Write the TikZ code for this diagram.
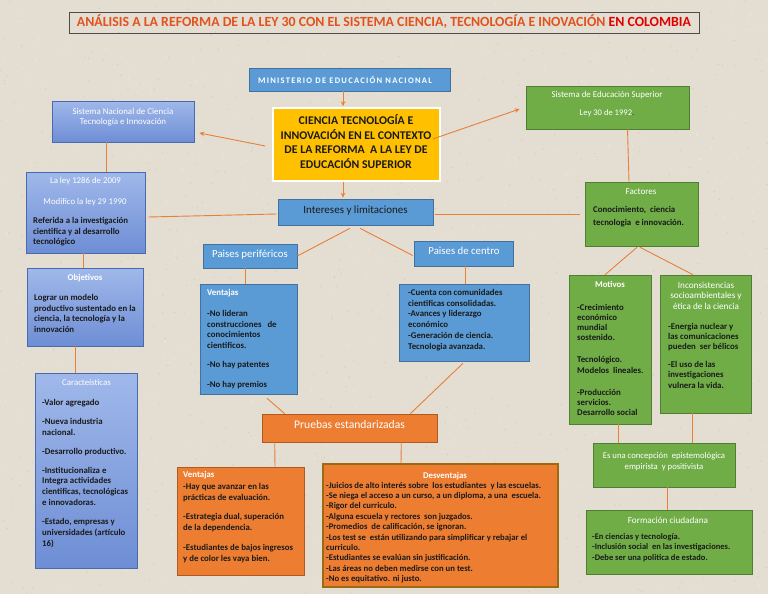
\documentclass[tikz,border=0pt]{standalone}
\usepackage{fontspec}
\setmainfont{Carlito}
\usepackage{graphicx}
\usetikzlibrary{arrows.meta,calc,fit}
\definecolor{bgc}{HTML}{E4DDD1}
\definecolor{bgd}{HTML}{C8BEAD}
\definecolor{bgl}{HTML}{F3EEE6}
\definecolor{blu}{HTML}{5B9BD5}
\definecolor{bluD}{HTML}{41719C}
\definecolor{grT}{HTML}{A0B8EA}
\definecolor{grB}{HTML}{6E8ED5}
\definecolor{grD}{HTML}{4A6AB0}
\definecolor{grn}{HTML}{70AD47}
\definecolor{grnD}{HTML}{507E32}
\definecolor{org}{HTML}{ED7D31}
\definecolor{orgD}{HTML}{AE5A21}
\definecolor{dvD}{HTML}{9A6B12}
\definecolor{yel}{HTML}{FFC000}
\definecolor{lnk}{HTML}{E8803A}
\definecolor{titc}{HTML}{E2521E}
\definecolor{titr}{HTML}{E00000}
\definecolor{txd}{HTML}{1A1A1A}
\newcommand\bx[6]{\node[#2,fit={(#3,#4)(#5,#6)},inner sep=0pt] (#1) {};}
\newcommand\tx[5]{\node[#1] (#2) at (#3,{#4-5.5}) {\strut #5};}
\begin{document}
\begin{tikzpicture}[x=1pt,y=-1pt,
  bluebox/.style={fill=blu,draw=bluD,line width=0.6pt},
  gradbox/.style={top color=grT,bottom color=grB,draw=grD,line width=0.6pt},
  greenbox/.style={fill=grn,draw=grnD,line width=0.6pt},
  orangebox/.style={fill=org,draw=orgD,line width=0.6pt},
  dvbox/.style={fill=org,draw=dvD,line width=1.2pt},
  yelbox/.style={fill=yel,draw=white,line width=1.5pt},
  titbox/.style={draw=black!70,line width=0.7pt},
  link/.style={draw=lnk,line width=0.9pt},
  arr/.style={link,-{Stealth[length=5pt,width=4.5pt]}},
  body/.style={anchor=north west,inner sep=0pt,align=left,font=\fontsize{8.8}{10.8}\selectfont\bfseries,text=txd},
  bodyw/.style={body,text=white},
  headc/.style={anchor=north,inner sep=0pt,align=center,font=\fontsize{8.8}{10.8}\selectfont,text=white},
  single/.style={anchor=base,inner sep=0pt}
]
\useasboundingbox (0,0) rectangle (768,594);
\fill[bgc] (0,0) rectangle (768,594);
\pgfmathsetseed{17}
\foreach \i in {1,...,700} {\fill[bgd,opacity=0.55] ({rnd*768},{rnd*594}) circle (0.7pt);}
\foreach \i in {1,...,500} {\fill[bgl,opacity=0.7] ({rnd*768},{rnd*594}) circle (0.8pt);}

% boxes
\bx{tb}{titbox}{69}{12}{699}{33}
\bx{min}{bluebox}{249}{68}{450}{91}
\bx{cen}{yelbox}{273}{108}{440}{181}
\bx{sn}{gradbox}{52}{101}{194}{142}
\bx{ley}{gradbox}{26}{172}{145}{253}
\bx{obj}{gradbox}{27}{268}{143}{346}
\bx{car}{gradbox}{35}{373}{137}{568}
\bx{int}{bluebox}{278}{199}{433}{225}
\bx{pp}{bluebox}{203}{244}{297}{268}
\bx{pc}{bluebox}{414}{241}{513}{266}
\bx{vb}{bluebox}{200}{284}{297}{394}
\bx{cu}{bluebox}{399}{284}{529}{361}
\bx{pr}{orangebox}{262}{414}{437}{442}
\bx{vo}{orangebox}{177}{467}{304}{575}
\bx{dv}{dvbox}{323}{464}{558}{587}
\bx{ses}{greenbox}{526}{86}{689}{129}
\bx{fac}{greenbox}{585}{182}{698}{246}
\bx{mo}{greenbox}{569}{275}{651}{424}
\bx{inc}{greenbox}{660}{275}{751}{413}
\bx{ec}{greenbox}{593}{443}{735}{487}
\bx{fc}{greenbox}{586}{510}{752}{574}

% connectors
\draw[arr] ($(min.south)+(-6.5,0)$) -- ($(cen.north)+(-13.5,-1)$);
\draw[arr] ($(cen.west)+(-7,1.5)$) -- ($(sn.east)+(5,11.5)$);
\draw[arr] ($(cen.east)+(-8,-5.5)$) -- ($(ses.west)+(-6,1.5)$);
\draw[arr] ($(cen.south)+(-13.5,0)$) -- ($(int.north)+(-12.5,-1)$);
\draw[link] ($(sn.south)+(-17,0)$) -- ($(ley.north)+(20.5,0)$);
\draw[link] ($(ley.east)+(3,4.5)$) -- ($(int.west)+(-1,2)$);
\draw[link] ($(int.east)+(2,2)$) -- ($(fac.west)+(-5,0)$);
\draw[link] ($(ses.south)+(20,0)$) -- ($(fac.north)+(-12.5,0)$);
\draw[link] ($(ley.south)+(-2.5,0)$) -- ($(obj.north)+(-2,0)$);
\draw[link] ($(obj.south)+(-10,0)$) -- ($(car.north)+(-11,0)$);
\draw[link] ($(int.south)+(-5.5,3)$) -- (pp.east);
\draw[link] ($(int.south)+(4.5,3)$) -- ($(pc.west)+(-1,2)$);
\draw[link] ($(pp.south)+(-5,0)$) -- ($(vb.north)+(-3.5,0)$);
\draw[link] ($(pc.south)+(1.5,0)$) -- ($(cu.north)+(1,0)$);
\draw[link] ($(vb.south)+(18.5,4)$) -- ($(pr.north west)+(23,0)$);
\draw[link] ($(cu.south)+(-1,2)$) -- ($(pr.north east)+(-27,0)$);
\draw[link] ($(pr.south west)+(13,0)$) -- ($(vo.north)+(34.5,0)$);
\draw[link] ($(pr.south east)+(-36,0)$) -- ($(dv.north)+(-39.5,0)$);
\draw[link] ($(fac.south)+(-4.5,1)$) -- ($(mo.north)+(-5,0)$);
\draw[link] ($(fac.south)+(-1.5,1)$) -- ($(inc.north)+(-12.5,0)$);
\draw[link] ($(mo.south)+(8,0)$) -- ($(ec.north)+(-46,0)$);
\draw[link] ($(inc.south)+(-13.5,0)$) -- ($(ec.north)+(28,0)$);
\draw[link] ($(ec.south)+(3,0)$) -- ($(fc.north)+(-2,0)$);

% title
\node[single] (tt) at (384,27) {\resizebox{614pt}{\height}{\fontsize{14}{14}\selectfont\bfseries\color{titc}ANÁLISIS A LA REFORMA DE LA LEY 30 CON EL SISTEMA CIENCIA, TECNOLOGÍA E INOVACIÓN \color{titr}EN COLOMBIA}};

% texts
\node[single,font=\fontsize{8.5}{10}\selectfont\bfseries\addfontfeature{LetterSpace=15},text=white] (mint) at (345,83) {MINISTERIO DE EDUCACIÓN NACIONAL};
\node[anchor=north,inner sep=0pt,align=center,font=\fontsize{11.8}{14.7}\selectfont\bfseries,text=txd] (cent) at (356,114) {\strut CIENCIA TECNOLOGÍA E\\INNOVACIÓN EN EL CONTEXTO\\DE LA REFORMA\ \ A LA LEY DE\\EDUCACIÓN SUPERIOR};
\node[anchor=north,inner sep=0pt,align=center,font=\fontsize{8.9}{10}\selectfont,text=white] (snt) at (123,106.8) {\strut Sistema Nacional de Ciencia\\Tecnología e Innovación};
\node[single,font=\fontsize{8.8}{10}\selectfont,text=white] (ley1) at (85.5,183.5) {La ley 1286 de 2009};
\node[single,font=\fontsize{8.8}{10}\selectfont,text=white] (ley2) at (85,204.5) {Modifico la ley 29 1990};
\tx{body}{leyt}{33}{221}{Referida a la investigación\\cientifica y al desarrollo\\tecnológico}
\node[single,font=\fontsize{8.8}{10}\selectfont\bfseries,text=white] (objh) at (85,280.5) {Objetivos};
\tx{body}{objt}{34}{298}{Lograr un modelo\\productivo sustentado en la\\ciencia, la tecnología y la\\innovación}
\node[single,font=\fontsize{8.8}{10}\selectfont,text=white] (carh) at (86.5,385.5) {Caracteísticas};
\tx{body}{cart}{42}{403}{-Valor agregado\\[8.2pt]-Nueva industria\\nacional.\\[8.2pt]-Desarrollo productivo.\\[8.2pt]-Institucionaliza e\\Integra actividades\\cientificas, tecnológicas\\e innovadoras.\\[8.2pt]-Estado, empresas y\\universidades (artículo\\16)}

\node[single,font=\fontsize{11}{12}\selectfont,text=txd] (intt) at (355.5,213.5) {Intereses y limitaciones};
\node[single,font=\fontsize{10.8}{12}\selectfont,text=white] (ppt) at (250,257.5) {Paises periféricos};
\node[single,font=\fontsize{10.8}{12}\selectfont,text=white] (pct) at (464,254) {Paises de centro};
\tx{bodyw}{vbh}{207}{293}{Ventajas}
\tx{body}{vbt}{207}{314}{-No lideran\\construcciones\ \ \ de\\conocimientos\\cientificos.\\[8.2pt]-No hay patentes\\[9pt]-No hay premios}
\tx{body}{cut}{408}{293}{-Cuenta con comunidades\\cientificas consolidadas.\\-Avances y liderazgo\\económico\\-Generación de ciencia.\\Tecnologia avanzada.}
\node[single,font=\fontsize{11.6}{12}\selectfont,text=white] (prt) at (349.5,428.5) {Pruebas estandarizadas};
\tx{bodyw}{voh}{183}{475}{Ventajas}
\tx{body}{vot}{183}{487}{-Hay que avanzar en las\\prácticas de evaluación.\\[9pt]-Estrategia dual, superación\\de la dependencia.\\[9pt]-Estudiantes de bajos ingresos\\y de color les vaya bien.}
\node[single,font=\fontsize{8.8}{10}\selectfont\bfseries,text=white] (dvh) at (445,478.5) {Desventajas};
\node[body,font=\fontsize{8.7}{10.4}\selectfont\bfseries] (dvt) at (326,{486-5.3}) {\strut -Juicios de alto interés sobre\ \ los estudiantes\ \ y las escuelas.\\-Se niega el acceso a un curso, a un diploma, a una\ \ escuela.\\-Rigor del curriculo.\\-Alguna escuela y rectores\ \ son juzgados.\\-Promedios\ \ de calificación, se ignoran.\\-Los test se\ \ están utilizando para simplificar y rebajar el\\curriculo.\\-Estudiantes se evalúan sin justificación.\\-Las áreas no deben medirse con un test.\\-No es equitativo. ni justo.};

\node[single,font=\fontsize{8.9}{10}\selectfont,text=white] (ses1) at (607,97.5) {Sistema de Educación Superior};
\node[single,font=\fontsize{8.6}{10}\selectfont,text=white] (ses2) at (607,115.5) {Ley 30 de 1992\textcolor{txd}{.}};
\node[single,font=\fontsize{9}{10}\selectfont,text=white] (fach) at (641,194.5) {Factores};
\node[body,font=\fontsize{8.8}{13}\selectfont\bfseries] (fact) at (593,{210-7.1}) {\strut Conocimiento,\ \ ciencia\\tecnologia\ \ e innovación.};
\node[single,font=\fontsize{8.8}{10}\selectfont\bfseries,text=white] (moh) at (610,287.5) {Motivos};
\node[body,font=\fontsize{8.8}{10.2}\selectfont\bfseries] (mot) at (577,{308-5.1}) {\strut -Crecimiento\\económico\\mundial\\sostenido.\\[11.8pt]Tecnológico.\\Modelos\ \ lineales.\\[11.8pt]-Producción\\servicios.\\Desarrollo social};
\node[headc,font=\fontsize{9.2}{10.5}\selectfont] (inch) at (706,{286-5.2}) {\strut Inconsistencias\\socioambientales y\\ética de la ciencia};
\node[body,font=\fontsize{8.8}{10.2}\selectfont\bfseries] (inct) at (668,{327-5.1}) {\strut -Energia nuclear y\\las comunicaciones\\pueden\ \ ser bélicos\\[7.8pt]-El uso de las\\investigaciones\\vulnera la vida.};
\node[headc,font=\fontsize{8.7}{10.8}\selectfont] (ect) at (664,{456-5.5}) {\strut Es una concepción\ \ epistemológica\\empirista\ \ y positivista};
\node[single,font=\fontsize{9.2}{10}\selectfont,text=white] (fch) at (668,523.5) {Formación ciudadana};
\node[body,font=\fontsize{8.5}{10.8}\selectfont\bfseries] (fct) at (592,{537-5.6}) {\strut -En ciencias y tecnología.\\-Inclusión social\ \ en las investigaciones.\\-Debe ser una politica de estado.};
\end{tikzpicture}
\end{document}
